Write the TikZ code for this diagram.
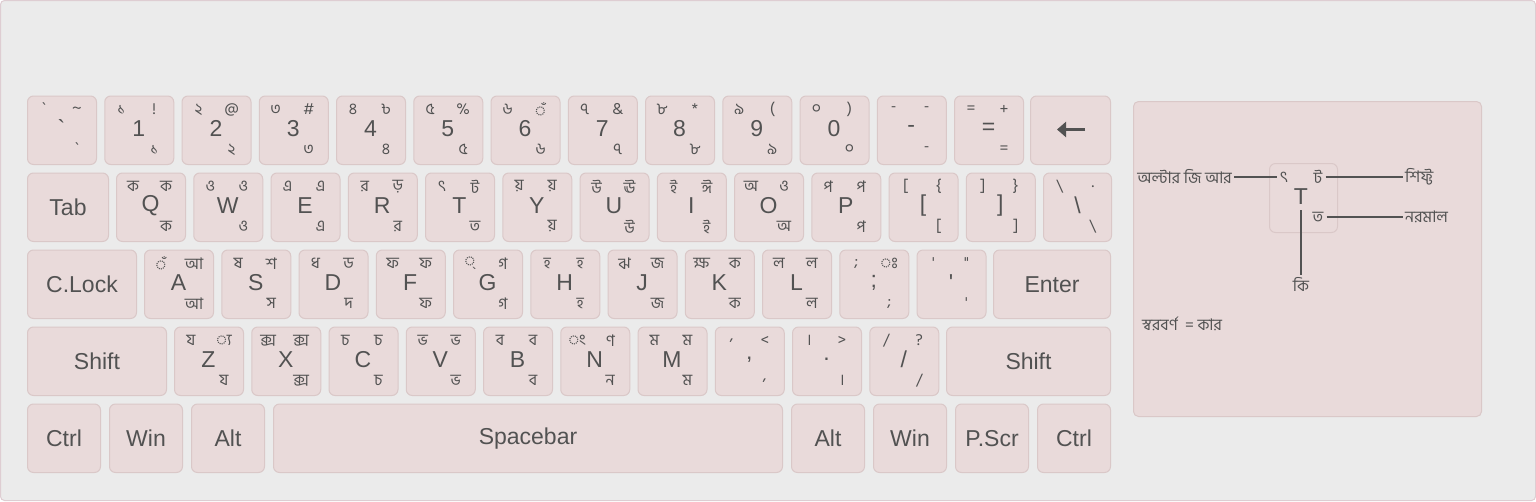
\documentclass[tikz,border=0pt]{standalone}
\usepackage{fontspec}
\setmainfont{Liberation Sans}
\newfontfamily\bn[Script=Bengali]{Hind Siliguri}
\usetikzlibrary{arrows.meta}
\definecolor{bgc}{RGB}{235,235,235}
\definecolor{outline}{RGB}{222,205,210}
\definecolor{keyfill}{RGB}{233,218,218}
\definecolor{keyline}{RGB}{218,200,200}
\definecolor{ink}{RGB}{82,82,82}
\tikzset{
  keybox/.style={draw=keyline, fill=keyfill, rounded corners=6pt, line width=1pt,
    minimum height=68.5pt, inner sep=0pt, anchor=north west},
  sm/.style={font=\bn\fontsize{16}{16}\selectfont, text=ink, inner sep=0pt},
  big/.style={font=\fontsize{23}{23}\selectfont, text=ink, inner sep=0pt},
  lbl/.style={font=\fontsize{23}{23}\selectfont, text=ink},
  leg/.style={font=\bn\fontsize{16}{16}\selectfont, text=ink, inner sep=2pt},
  conn/.style={draw=ink, line width=1.1pt},
}
\newcommand\mykey[8]{%
  \node[keybox, minimum width=#4pt] (#1) at (#2,#3) {};
  \node[sm] (#1tl) at ([shift={(17,14)}]#1.north west) {#5};
  \node[sm] (#1tr) at ([shift={(50,14)}]#1.north west) {#6};
  \node[big] (#1c) at ([shift={(34.5,33)}]#1.north west) {#7};
  \node[sm] (#1br) at ([shift={(50,54)}]#1.north west) {#8};
}
\newcommand\spkey[5]{%
  \node[keybox, lbl, minimum width=#4pt] (#1) at (#2,#3) {#5};
}
\begin{document}
\begin{tikzpicture}[x=1pt,y=-1pt]
\useasboundingbox (0,0) rectangle (1536,501);
\draw[draw=outline, fill=bgc, line width=1pt, rounded corners=4pt] (0.5,0.5) rectangle (1535.5,500.5);
% row 1
\mykey{kgrave}{27}{95.5}{69}{\textasciigrave}{\textasciitilde}{\textasciigrave}{\textasciigrave}
\mykey{k1}{104.25}{95.5}{69}{১}{!}{1}{১}
\mykey{k2}{181.5}{95.5}{69}{২}{@}{2}{২}
\mykey{k3}{258.75}{95.5}{69}{৩}{\#}{3}{৩}
\mykey{k4}{336}{95.5}{69}{৪}{৳}{4}{৪}
\mykey{k5}{413.25}{95.5}{69}{৫}{\%}{5}{৫}
\mykey{k6}{490.5}{95.5}{69}{৬}{◌ঁ}{6}{৬}
\mykey{k7}{567.75}{95.5}{69}{৭}{\&}{7}{৭}
\mykey{k8}{645}{95.5}{69}{৮}{*}{8}{৮}
\mykey{k9}{722.25}{95.5}{69}{৯}{(}{9}{৯}
\mykey{k0}{799.5}{95.5}{69}{০}{)}{0}{০}
\mykey{kminus}{876.75}{95.5}{69}{-}{-}{-}{-}
\mykey{kequal}{954}{95.5}{69}{=}{+}{=}{=}
\node[keybox, minimum width=80pt] (bs) at (1030,95.5) {};
\draw[ink, line width=3.5pt, -{Triangle[length=9pt,width=15pt]}]
  ([shift={(55,34)}]bs.north west) -- ([shift={(27,34)}]bs.north west);
% row 2
\spkey{tab}{27}{172.5}{81}{Tab}
\mykey{kq}{116}{172.5}{69}{ক}{ক}{Q}{ক}
\mykey{kw}{193.25}{172.5}{69}{ও}{ও}{W}{ও}
\mykey{ke}{270.5}{172.5}{69}{এ}{এ}{E}{এ}
\mykey{kr}{347.75}{172.5}{69}{র}{ড়}{R}{র}
\mykey{kt}{425}{172.5}{69}{ৎ}{ট}{T}{ত}
\mykey{ky}{502.25}{172.5}{69}{য়}{য়}{Y}{য়}
\mykey{ku}{579.5}{172.5}{69}{উ}{ঊ}{U}{উ}
\mykey{ki}{656.75}{172.5}{69}{ই}{ঈ}{I}{ই}
\mykey{ko}{734}{172.5}{69}{অ}{ও}{O}{অ}
\mykey{kp}{811.25}{172.5}{69}{প}{প}{P}{প}
\mykey{klb}{888.5}{172.5}{69}{[}{\{}{[}{[}
\mykey{krb}{965.75}{172.5}{69}{]}{\}}{]}{]}
\mykey{kbsl}{1043}{172.5}{68}{\textbackslash}{.}{\textbackslash}{\textbackslash}
% row 3
\spkey{caps}{27}{249.5}{109}{C.Lock}
\mykey{ka}{144}{249.5}{69}{◌ঁ}{আ}{A}{আ}
\mykey{ks}{221.25}{249.5}{69}{ষ}{শ}{S}{স}
\mykey{kd}{298.5}{249.5}{69}{ধ}{ড}{D}{দ}
\mykey{kf}{375.75}{249.5}{69}{ফ}{ফ}{F}{ফ}
\mykey{kg}{453}{249.5}{69}{◌্}{গ}{G}{গ}
\mykey{kh}{530.25}{249.5}{69}{হ}{হ}{H}{হ}
\mykey{kj}{607.5}{249.5}{69}{ঝ}{জ}{J}{জ}
\mykey{kk}{684.75}{249.5}{69}{ক্ষ}{ক}{K}{ক}
\mykey{kl}{762}{249.5}{69}{ল}{ল}{L}{ল}
\mykey{ksemi}{839.25}{249.5}{69}{;}{◌ঃ}{;}{;}
\mykey{kquote}{916.5}{249.5}{69}{\textquotesingle}{"}{\textquotesingle}{\textquotesingle}
\spkey{enter}{993}{249.5}{117}{Enter}
% row 4
\spkey{lshift}{27}{326.5}{139}{Shift}
\mykey{kz}{174}{326.5}{69}{য}{◌্য}{Z}{য}
\mykey{kx}{251.25}{326.5}{69}{ক্স}{ক্স}{X}{ক্স}
\mykey{kc}{328.5}{326.5}{69}{চ}{চ}{C}{চ}
\mykey{kv}{405.75}{326.5}{69}{ভ}{ভ}{V}{ভ}
\mykey{kb}{483}{326.5}{69}{ব}{ব}{B}{ব}
\mykey{kn}{560.25}{326.5}{69}{◌ং}{ণ}{N}{ন}
\mykey{km}{637.5}{326.5}{69}{ম}{ম}{M}{ম}
\mykey{kcomma}{714.75}{326.5}{69}{,}{<}{,}{,}
\mykey{kdot}{792}{326.5}{69}{।}{>}{.}{।}
\mykey{kslash}{869.25}{326.5}{69}{/}{?}{/}{/}
\spkey{rshift}{946}{326.5}{164}{Shift}
% row 5
\spkey{lctrl}{27}{403.5}{73}{Ctrl}
\spkey{lwin}{109}{403.5}{73}{Win}
\spkey{lalt}{191}{403.5}{73}{Alt}
\spkey{space}{273}{403.5}{509}{Spacebar}
\spkey{ralt}{791}{403.5}{73}{Alt}
\spkey{rwin}{873}{403.5}{73}{Win}
\spkey{pscr}{955}{403.5}{73}{P.Scr}
\spkey{rctrl}{1037}{403.5}{73}{Ctrl}
% legend panel
\node[keybox, minimum width=348pt, minimum height=315pt, rounded corners=5pt] (panel) at (1133,101) {};
\node[draw=keyline, line width=1pt, rounded corners=6pt, minimum width=68pt, minimum height=69pt,
  inner sep=0pt, anchor=north west] (lgkey) at (1269,163) {};
\node[sm] (lgtl) at (1284,177) {ৎ};
\node[sm] (lgtr) at (1318,177) {ট};
\node[big] (lgc) at (1301,197) {T};
\node[sm] (lgbr) at (1318,217) {ত};
\node[leg, anchor=east] (altgr) at (1234,177) {অল্টার জি আর};
\node[leg, anchor=west] (shiftl) at (1403,177) {শিফ্ট};
\node[leg, anchor=west] (normal) at (1403,217) {নরমাল};
\node[leg] (keyl) at (1301,284) {কি};
\node[leg, anchor=west] (vowel) at (1140,324) {স্বরবর্ণ\ \ = কার};
\draw[conn] (altgr.east) -- ([xshift=-3pt]lgtl.west);
\draw[conn] ([xshift=3pt]lgtr.east) -- (shiftl.west);
\draw[conn] ([xshift=3pt]lgbr.east) -- (normal.west);
\draw[conn] (1301,210) -- (keyl.north);
\end{tikzpicture}
\end{document}
